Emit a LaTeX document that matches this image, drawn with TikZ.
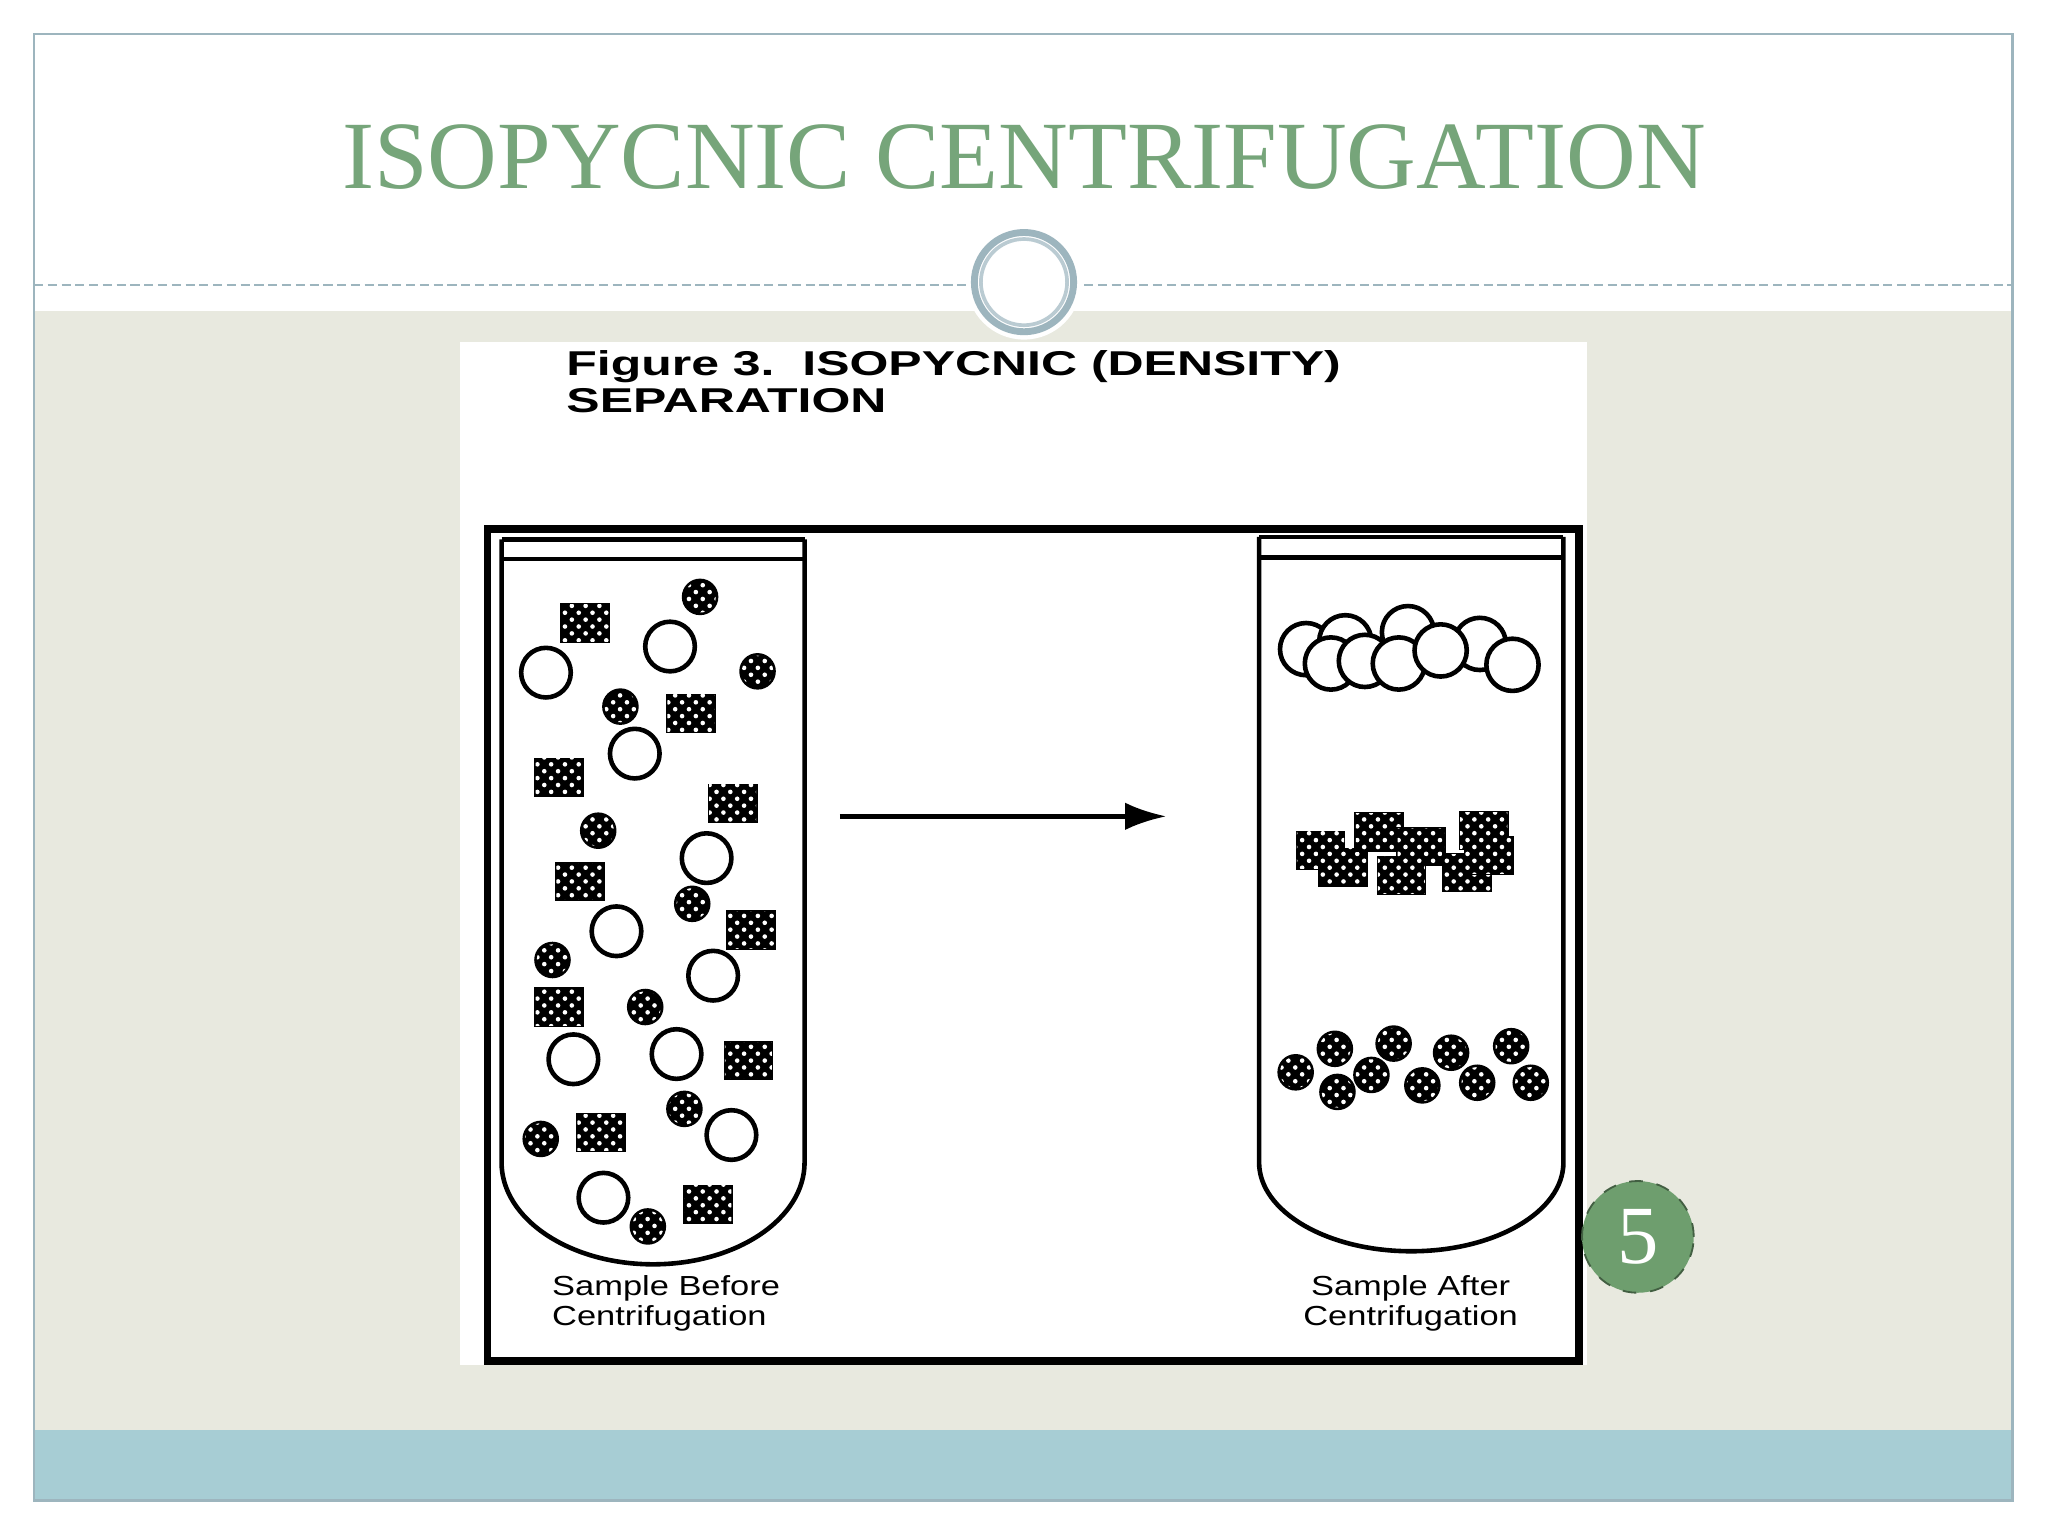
\documentclass[tikz,border=0pt]{standalone}
\usepackage{fontspec}
\setmainfont{Liberation Serif}
\newfontfamily\figsans{Liberation Sans}
\usetikzlibrary{patterns,arrows.meta}
\definecolor{titlegreen}{HTML}{76A57A}
\definecolor{beige}{HTML}{E8E9DF}
\definecolor{bandblue}{HTML}{A7CDD4}
\definecolor{framegray}{HTML}{9DB5BE}
\definecolor{pagegreen}{HTML}{6E9E6E}
\tikzset{
  opencirc/.style={draw=black,fill=white,line width=1pt},
  dotcirc/.style={fill=black},
  dots/.style={pattern=crosshatch dots,pattern color=white},
  tube/.style={line width=1pt},
}
\begin{document}
\begin{tikzpicture}[x=0.01cm,y=-0.01cm]
\useasboundingbox (0,0) rectangle (1568,1176);
\fill[white] (0,0) rectangle (1568,1176);
\fill[beige] (26,238) rectangle (1541,1095);
\fill[bandblue] (26,1095) rectangle (1541,1149);
\draw[framegray,line width=0.6pt] (26,26) rectangle (1541,1149);
\draw[framegray,dash pattern=on 2pt off 1pt,line width=0.4pt] (26,218) -- (740,218) (830,218) -- (1541,218);
\fill[white] (784,216) circle (44);
\draw[framegray,line width=1.5pt] (784,216) circle (38);
\draw[framegray!70,line width=0.8pt] (784,216) circle (33);
\node[text=titlegreen,font=\fontsize{21}{25}\selectfont] (title) at (784,120) {ISOPYCNIC CENTRIFUGATION};
% figure area
\fill[white] (352,262) rectangle (1215,1045);
\node[anchor=north west,align=left,inner sep=0,font=\figsans\bfseries\fontsize{7.5}{8}\selectfont] (figtitle) at (433,268)
 {\scalebox{1.45}[1]{Figure 3.\ \ ISOPYCNIC (DENSITY)}\\\scalebox{1.45}[1]{SEPARATION}};
\draw[line width=1.6pt] (373,405) rectangle (1209,1042);
% tubes
\draw[tube] (384,413) -- (616,413);
\draw[tube] (384,428) -- (616,428);
\draw[tube] (384,413) -- (384,890) arc[start angle=180,end angle=0,x radius=116,y radius=78] -- (616,413);
\draw[tube] (964,411) -- (1197,411);
\draw[tube] (964,427) -- (1197,427);
\draw[tube] (964,411) -- (964,890) arc[start angle=180,end angle=0,x radius=116.5,y radius=68] -- (1197,411);
% arrow
\coordinate (a1) at (643,625); \coordinate (a2) at (893,625);
\draw[line width=1pt,-{Latex[length=9pt,width=6pt]}] (a1) -- (a2);
% left particles
\foreach \x/\y in {448/477,529/546,428/595,561/615,444/675,575/712,428/771,573/812,460/867,542/922}{
  \fill[black] (\x-19,\y-15) rectangle (\x+19,\y+15);
  \fill[dots] (\x-18,\y-14) rectangle (\x+18,\y+14);}
\foreach \x/\y in {536/457,580/514,475/541,458/636,530/692,423/735,494/771,524/849,414/872,496/939}{
  \fill[dotcirc] (\x,\y) circle (14); \fill[dots] (\x,\y) circle (12);}
\foreach \x/\y in {513/495,418/515,486/577,541/657,472/713,546/747,439/811,518/807,560/869,462/917}{
  \draw[opencirc] (\x,\y) circle (19);}
% right particles
\foreach \x/\y in {1000/497,1030/491,1078/484,1133/493,1019/508,1045/506,1071/508,1103/498,1158/509}{
  \draw[opencirc] (\x,\y) circle (20);}
\foreach \x/\y in {1011/651,1028/664,1056/637,1088/648,1073/670,1123/668,1136/636,1140/655}{
  \fill[black] (\x-19,\y-15) rectangle (\x+19,\y+15);
  \fill[dots] (\x-18,\y-14) rectangle (\x+18,\y+14);}
\foreach \x/\y in {992/821,1022/803,1024/836,1050/823,1067/799,1089/831,1111/806,1131/829,1157/801,1172/829}{
  \fill[dotcirc] (\x,\y) circle (14); \fill[dots] (\x,\y) circle (12);}
% labels
\node[align=left,font=\figsans\fontsize{6}{6.5}\selectfont] (lab1) at (510,998) {\scalebox{1.25}[1]{Sample Before}\\\scalebox{1.25}[1]{Centrifugation}};
\node[align=center,font=\figsans\fontsize{6}{6.5}\selectfont] (lab2) at (1080,998) {\scalebox{1.25}[1]{Sample After}\\\scalebox{1.25}[1]{Centrifugation}};
% page number
\node[circle,fill=pagegreen,draw=pagegreen!60!black,dashed,minimum size=78*0.01cm,text=white,font=\fontsize{18}{20}\selectfont] (page) at (1254,947) {5};
\end{tikzpicture}
\end{document}
